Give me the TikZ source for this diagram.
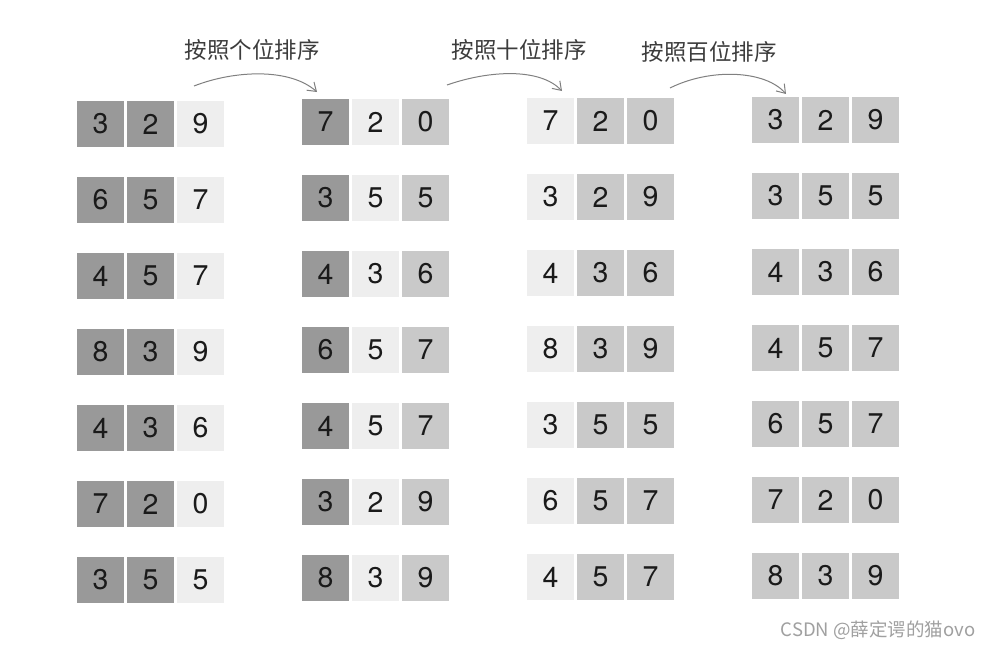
\documentclass[tikz,border=0pt]{standalone}
\usepackage{fontspec}
\usetikzlibrary{arrows.meta}
\newfontfamily\digitfont{TeX Gyre Heros}
\newfontfamily\cjk{Noto Sans CJK SC}
\definecolor{dk}{HTML}{999999}
\definecolor{md}{HTML}{C9C9C9}
\definecolor{lt}{HTML}{EEEEEE}
\definecolor{txt}{HTML}{1A1A1A}
\definecolor{arr}{HTML}{808080}
\definecolor{wm}{HTML}{A0A0A0}
\tikzset{
  cell/.style={minimum width=47pt, minimum height=46pt, inner sep=0pt, draw=none, text=txt,
    font=\digitfont\fontsize{28.5}{28.5}\selectfont},
  lbl/.style={inner sep=0pt, text=txt!85, font=\cjk\fontsize{22.5}{22.5}\selectfont},
  curvearrow/.style={draw=arr, line width=1pt, -{Straight Barb[length=8pt,width=11pt]}},
}
\begin{document}
\begin{tikzpicture}[x=1pt,y=-1pt]
\useasboundingbox[fill=white] (0,0) rectangle (995,648);
\foreach \col/\xo/\yo/\ca/\cb/\cc/\vals in {
  1/77/101/dk/dk/lt/{3/2/9,6/5/7,4/5/7,8/3/9,4/3/6,7/2/0,3/5/5},
  2/302/99/dk/lt/md/{7/2/0,3/5/5,4/3/6,6/5/7,4/5/7,3/2/9,8/3/9},
  3/527/98/lt/md/md/{7/2/0,3/2/9,4/3/6,8/3/9,3/5/5,6/5/7,4/5/7},
  4/752/97/md/md/md/{3/2/9,3/5/5,4/3/6,4/5/7,6/5/7,7/2/0,8/3/9}}{
  \foreach \a/\b/\c [count=\r] in \vals {
    \node[cell, fill=\ca] (c\col r\r a) at ({\xo+23.5},{\yo+23+76*(\r-1)}) {\a};
    \node[cell, fill=\cb] (c\col r\r b) at ({\xo+73.5},{\yo+23+76*(\r-1)}) {\b};
    \node[cell, fill=\cc] (c\col r\r c) at ({\xo+123.5},{\yo+23+76*(\r-1)}) {\c};
  }
}
\node[lbl] (l1) at (252,50) {按照个位排序};
\node[lbl] (l2) at (519,50) {按照十位排序};
\node[lbl] (l3) at (709,52) {按照百位排序};
\coordinate (s1) at (194,86);
\coordinate (e1) at (317,92);
\coordinate (s2) at (447,85);
\coordinate (e2) at (562,91);
\coordinate (s3) at (670,88);
\coordinate (e3) at (786,94);
\draw[curvearrow] (s1) .. controls (235,70) and (290,68) .. (e1);
\draw[curvearrow] (s2) .. controls (490,70) and (540,68) .. (e2);
\draw[curvearrow] (s3) .. controls (710,68) and (765,70) .. (e3);
\node[inner sep=0pt, text=wm, font=\cjk\fontsize{18.5}{18.5}\selectfont] (wm) at (878,630) {CSDN @薛定谔的猫ovo};
\end{tikzpicture}
\end{document}
